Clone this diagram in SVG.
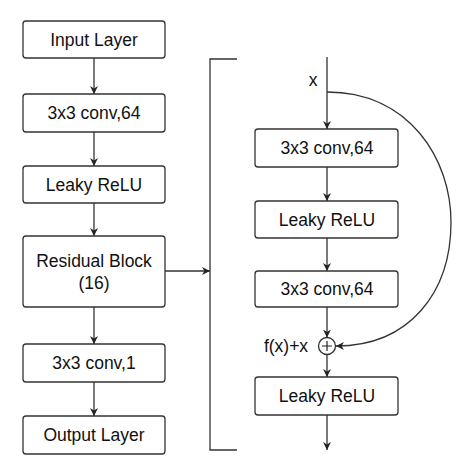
<svg xmlns="http://www.w3.org/2000/svg" width="474" height="474" viewBox="0 0 474 474">
<style>
.box{fill:#fff;stroke:#333;stroke-width:1.3}
.t{font-family:"Liberation Sans",Arial,sans-serif;font-size:17.5px;fill:#111;text-anchor:middle}
.c{fill:none;stroke:#333;stroke-width:1.3}
</style>
<defs>
<marker id="ah" viewBox="0 0 10 10" refX="10" refY="5" markerWidth="8" markerHeight="8" markerUnits="userSpaceOnUse" orient="auto">
<path d="M0,0 L10,5 L0,10 L3,5 Z" fill="#222"/>
</marker>
</defs>
<rect width="474" height="474" fill="#fff"/>
<g id="connectors">
<line class="c" x1="94" y1="58" x2="94" y2="94" marker-end="url(#ah)"/>
<line class="c" x1="94" y1="132" x2="94" y2="166" marker-end="url(#ah)"/>
<line class="c" x1="94" y1="203" x2="94" y2="236" marker-end="url(#ah)"/>
<line class="c" x1="94" y1="307" x2="94" y2="344" marker-end="url(#ah)"/>
<line class="c" x1="94" y1="382" x2="94" y2="416" marker-end="url(#ah)"/>
<line class="c" x1="165" y1="271" x2="210" y2="271" marker-end="url(#ah)"/>
<path class="c" d="M237,59 H210 V450 H237"/>
<line class="c" x1="327" y1="57" x2="327" y2="129" marker-end="url(#ah)"/>
<line class="c" x1="327" y1="167" x2="327" y2="201" marker-end="url(#ah)"/>
<line class="c" x1="327" y1="238" x2="327" y2="271" marker-end="url(#ah)"/>
<line class="c" x1="327" y1="307" x2="327" y2="337.5" marker-end="url(#ah)"/>
<line class="c" x1="327" y1="354.5" x2="327" y2="377" marker-end="url(#ah)"/>
<line class="c" x1="327" y1="415" x2="327" y2="450" marker-end="url(#ah)"/>
<path class="c" d="M327,92 C410,92 451,160 451,222 C451,292 410,346 336,346" marker-end="url(#ah)"/>
</g>
<g id="input"><rect class="box" x="23" y="21" width="142" height="37" rx="3"/><text class="t" x="94" y="46">Input Layer</text></g>
<g id="conv64"><rect class="box" x="23" y="94" width="142" height="38" rx="3"/><text class="t" x="94" y="119">3x3 conv,64</text></g>
<g id="relu1"><rect class="box" x="23" y="166" width="142" height="37" rx="3"/><text class="t" x="94" y="191">Leaky ReLU</text></g>
<g id="resblock"><rect class="box" x="23" y="236" width="142" height="71" rx="3"/><text class="t" x="94" y="267">Residual Block</text><text class="t" x="94" y="289">(16)</text></g>
<g id="conv1"><rect class="box" x="23" y="344" width="142" height="38" rx="3"/><text class="t" x="94" y="369">3x3 conv,1</text></g>
<g id="output"><rect class="box" x="23" y="416" width="142" height="38" rx="3"/><text class="t" x="94" y="441">Output Layer</text></g>
<g id="xlabel"><text class="t" x="313" y="86">x</text></g>
<g id="rconv1"><rect class="box" x="255" y="129" width="143" height="38" rx="3"/><text class="t" x="327" y="154">3x3 conv,64</text></g>
<g id="rrelu1"><rect class="box" x="255" y="201" width="143" height="37" rx="3"/><text class="t" x="327" y="226">Leaky ReLU</text></g>
<g id="rconv2"><rect class="box" x="255" y="271" width="143" height="36" rx="3"/><text class="t" x="327" y="295">3x3 conv,64</text></g>
<g id="add"><circle class="box" cx="327" cy="346" r="8.5"/><path d="M322,346 H332 M327,341 V351" stroke="#222" stroke-width="1.2"/><text class="t" x="286" y="352">f(x)+x</text></g>
<g id="rrelu2"><rect class="box" x="255" y="377" width="143" height="38" rx="3"/><text class="t" x="327" y="402">Leaky ReLU</text></g>
</svg>
